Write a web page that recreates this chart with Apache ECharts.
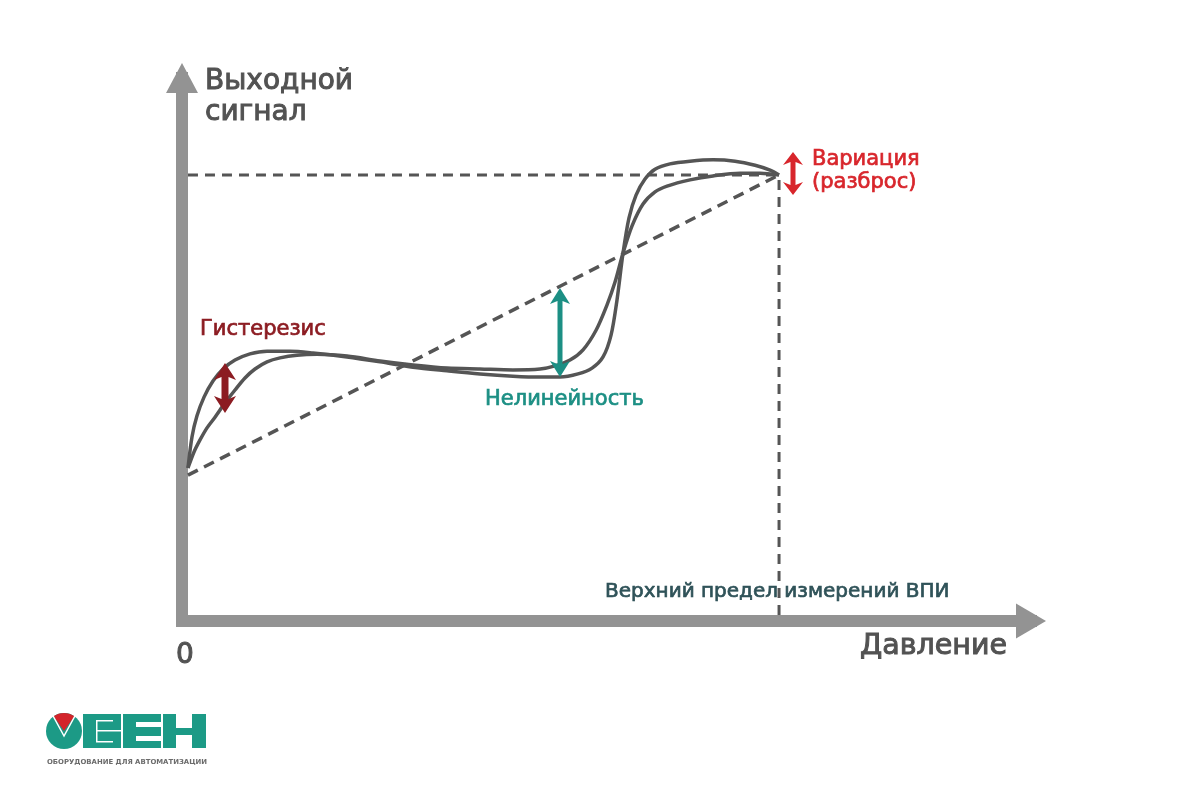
<!DOCTYPE html>
<html>
<head>
<meta charset="utf-8">
<script src="https://cdn.jsdelivr.net/npm/echarts@6/dist/echarts.min.js"></script>
<style>
html,body{margin:0;padding:0;background:#fff;}
#chart{width:1200px;height:801px;}
</style>
</head>
<body>
<div id="chart"></div>
<script>
// Output signal (% of full scale) vs pressure (% of upper measurement limit)
const curveFast = [[1.0,34.3],[1.68,41.3],[2.51,46.0],[3.69,50.2],[5.19,53.8],[6.87,56.5],[8.88,58.5],[11.39,59.9],[14.24,60.5],[18.09,60.5],[21.94,60.1],[27.64,59.2],[33.17,58.1],[38.69,56.9],[44.39,56.1],[49.92,55.4],[55.44,54.9],[59.97,54.7],[63.32,54.7],[66.33,55.4],[68.68,56.7],[70.52,59.2],[71.86,64.1],[72.86,72.0],[73.87,82.5],[74.87,90.4],[76.05,95.5],[77.55,99.1],[79.23,101.3],[81.74,102.5],[85.09,103.1],[88.94,103.4],[92.63,103.1],[95.98,102.2],[98.49,101.1],[100,100]];
const curveSlow = [[1.0,34.3],[2.01,37.9],[3.02,40.6],[4.19,43.3],[5.53,45.7],[7.20,48.9],[8.88,51.8],[10.55,54.5],[12.23,56.5],[14.24,58.1],[16.42,59.0],[19.26,59.6],[22.61,59.8],[27.64,59.4],[33.17,58.3],[38.69,57.4],[44.39,56.7],[49.92,56.5],[55.44,56.3],[59.97,56.5],[62.48,57.2],[64.99,58.5],[67.17,60.8],[69.35,65.2],[71.19,70.9],[72.53,76.0],[73.87,82.5],[75.38,88.6],[77.22,93.5],[79.23,96.2],[81.24,97.5],[85.09,98.9],[88.94,99.8],[93.47,100.4],[96.82,100.4],[100,100]];
const idealLine = [[1,32.7],[100,100]];
const fullScaleLine = [[1,100],[100,100]];
const upperLimitLine = [[100,1.35],[100,100]];
const xMax = 142.2, yMax = 121.75;

const chart = echarts.init(document.getElementById('chart'));
const AX = '#939393', CURVE = '#555555';
const FONT = '"DejaVu Sans", sans-serif';

function dblArrow(x, t, b, hw, hl, sw, color) {
  return {
    type: 'polygon', z: 50,
    shape: { points: [
      [x, t], [x + hw, t + hl], [x + sw / 2, t + hl - 3], [x + sw / 2, b - hl + 3],
      [x + hw, b - hl], [x, b], [x - hw, b - hl], [x - sw / 2, b - hl + 3],
      [x - sw / 2, t + hl - 3], [x - hw, t + hl]
    ] },
    style: { fill: color }
  };
}
function txt(text, x, y, size, color, align, sw) {
  return { type: 'text', z: 50, x: x, y: y,
    style: { text: text, font: size + 'px ' + FONT, fill: color, stroke: color, lineWidth: sw == null ? 0.7 : sw,
      align: align || 'left', verticalAlign: 'middle' } };
}
const TEAL = '#1c9a86';
const logo = [
  { type: 'circle', shape: { cx: 64, cy: 731, r: 18 }, style: { fill: TEAL } },
  { type: 'sector', shape: { cx: 64, cy: 731, r: 18, r0: 0, startAngle: -Math.PI * 0.5 - 0.62, endAngle: -Math.PI * 0.5 + 0.62 }, style: { fill: '#d3242b' } },
  { type: 'polyline', shape: { points: [[52, 714], [64, 736], [76, 714]] }, style: { stroke: '#fff', lineWidth: 1.5, fill: null } },
  { type: 'rect', shape: { x: 83, y: 714, width: 38, height: 34 }, style: { fill: TEAL } },
  { type: 'rect', shape: { x: 96, y: 720, width: 17, height: 1.5 }, style: { fill: '#fff' } },
  { type: 'rect', shape: { x: 96, y: 730, width: 25, height: 1.5 }, style: { fill: '#fff' } },
  { type: 'rect', shape: { x: 96, y: 741, width: 17, height: 1.5 }, style: { fill: '#fff' } },
  { type: 'rect', shape: { x: 96, y: 720, width: 1.5, height: 22 }, style: { fill: '#fff' } },
  { type: 'rect', shape: { x: 123, y: 714, width: 38, height: 34 }, style: { fill: TEAL } },
  { type: 'rect', shape: { x: 136, y: 722, width: 25, height: 5 }, style: { fill: '#fff' } },
  { type: 'rect', shape: { x: 136, y: 736, width: 25, height: 5 }, style: { fill: '#fff' } },
  { type: 'rect', shape: { x: 163, y: 714, width: 43, height: 34 }, style: { fill: TEAL } },
  { type: 'rect', shape: { x: 176, y: 714, width: 16, height: 14 }, style: { fill: '#fff' } },
  { type: 'rect', shape: { x: 176, y: 735, width: 16, height: 13 }, style: { fill: '#fff' } },
  { type: 'text', x: 47, y: 762, style: { text: 'ОБОРУДОВАНИЕ ДЛЯ АВТОМАТИЗАЦИИ', font: 'bold 6.9px "DejaVu Sans", sans-serif', fill: '#6b6b6b', verticalAlign: 'middle' } }
];

chart.setOption({
  animation: false,
  backgroundColor: '#fff',
  grid: { left: 182, right: 169, top: 78, bottom: 180, containLabel: false },
  xAxis: {
    type: 'value', min: 0, max: xMax,
    axisLine: { show: true, onZero: false, symbol: ['none', 'triangle'], symbolSize: [35, 30],
      lineStyle: { color: AX, width: 12, cap: 'square' } },
    axisTick: { show: false }, axisLabel: { show: false }, splitLine: { show: false }
  },
  yAxis: {
    type: 'value', min: 0, max: yMax,
    axisLine: { show: true, onZero: false, symbol: ['none', 'triangle'], symbolSize: [32, 30],
      lineStyle: { color: AX, width: 12, cap: 'square' } },
    axisTick: { show: false }, axisLabel: { show: false }, splitLine: { show: false }
  },
  series: [
    { type: 'line', data: fullScaleLine, showSymbol: false, silent: true, z: 2,
      lineStyle: { color: CURVE, width: 3, type: [10, 7] } },
    { type: 'line', data: upperLimitLine, showSymbol: false, silent: true, z: 2,
      lineStyle: { color: CURVE, width: 3, type: [10, 7] } },
    { type: 'line', data: idealLine, showSymbol: false, silent: true, z: 2,
      lineStyle: { color: CURVE, width: 3.5, type: [11, 7] } },
    { type: 'line', data: curveFast, showSymbol: false, silent: true, smooth: 0.3, z: 3,
      lineStyle: { color: CURVE, width: 3.5 } },
    { type: 'line', data: curveSlow, showSymbol: false, silent: true, smooth: 0.3, z: 3,
      lineStyle: { color: CURVE, width: 3.5 } }
  ],
  graphic: [
    txt('Выходной', 205, 82, 28, '#525252', 'left', 1),
    txt('сигнал', 205, 113, 28, '#525252', 'left', 1),
    txt('0', 185, 656, 28, '#525252', 'center', 1),
    txt('Давление', 1007, 647, 28.5, '#525252', 'right', 1),
    txt('Верхний предел измерений ВПИ', 605, 592, 20, '#2f5258'),
    txt('Гистерезис', 200, 330, 21, '#8c1c22'),
    txt('Нелинейность', 485, 400, 21, '#1c8f84'),
    txt('Вариация', 812, 160, 21, '#d8262c'),
    txt('(разброс)', 812, 183, 21, '#d8262c'),
    dblArrow(225, 363, 413, 11, 17, 7, '#8c1c22'),
    dblArrow(560, 288, 377, 10, 16, 5, '#1c8f84'),
    dblArrow(793, 152, 195, 10, 13, 5, '#d8262c')
  ].concat(logo)
});
</script>
</body>
</html>
